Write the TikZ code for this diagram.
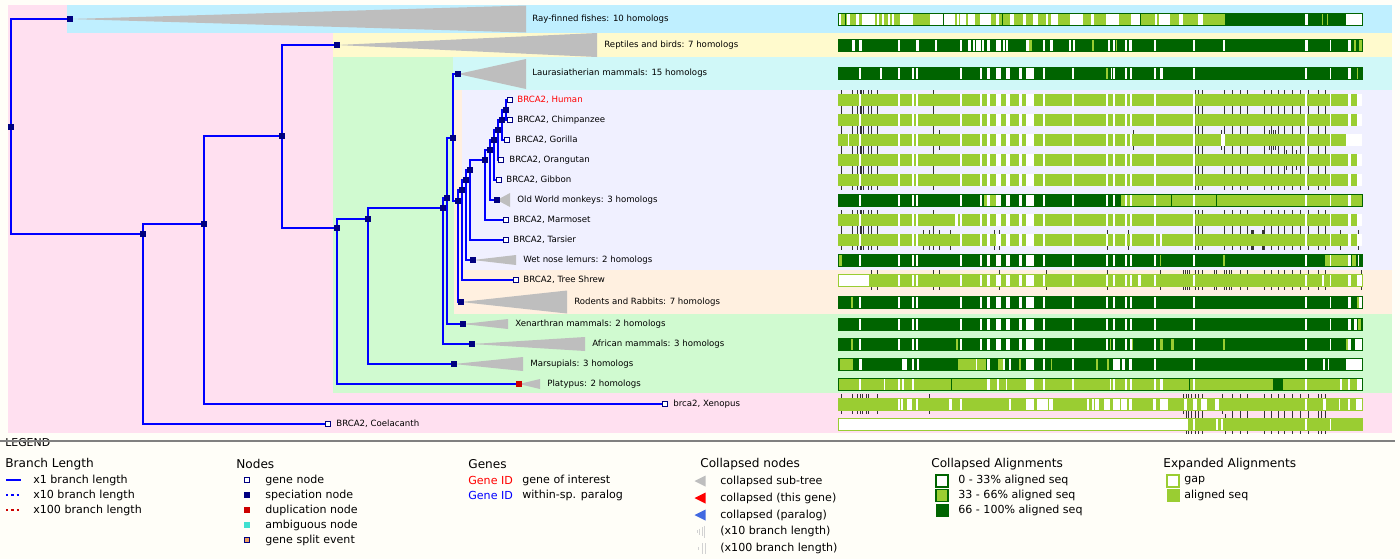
\documentclass[tikz,border=0pt]{standalone}
\usepackage{fontspec}
\setmainfont{DejaVu Sans}

\definecolor{pagebg}{HTML}{FFFEF8}
\definecolor{pinkbg}{HTML}{FFE0F0}
\definecolor{fishbg}{HTML}{BFEFFF}
\definecolor{ylwbg}{HTML}{FFFACD}
\definecolor{grnbg}{HTML}{D0FAD0}
\definecolor{cyanbg}{HTML}{D0F8F8}
\definecolor{peachbg}{HTML}{FFF0E0}
\definecolor{lavbg}{HTML}{F0F0FF}
\definecolor{navy}{HTML}{000080}
\definecolor{brblue}{HTML}{0000FF}
\definecolor{dupred}{HTML}{CC0000}
\definecolor{ambig}{HTML}{40E0D0}
\definecolor{splitorange}{HTML}{F0A060}
\definecolor{collgray}{HTML}{BEBEBE}
\definecolor{paralog}{HTML}{4169E1}
\definecolor{alndark}{HTML}{006400}
\definecolor{alnlight}{HTML}{9ACD32}
\definecolor{tickgray}{HTML}{333333}

\newcommand\treefont{\fontsize{4.9}{5.6}\selectfont}
\newcommand\legfont{\fontsize{6.3}{7.5}\selectfont}
\newcommand\legtitle{\fontsize{6.9}{8}\selectfont}

\pgfdeclarelayer{back}
\pgfdeclarelayer{mid}
\pgfsetlayers{back,mid,main}

%% columns that are gaps in almost every sequence
\newcommand\gapcols{859.3/2.1, 897.6/2.1, 912.2/2.1, 915.7/2.1, 960/2.1, 979.6/2.1, 987.4/2.1, 995.9/4.6, 1005.8/4.6, 1019.3/2.5, 1026.4/2.1, 1029.2/5, 1042.7/2.1, 1072.2/2.1, 1106.2/2.1, 1113/2.1, 1124.7/2.1, 1130/2.1, 1153.8/2.1, 1192.8/2.1, 1305.3/2.1, 1329.8/1, 1347.8/2.8}
%% exon boundaries of the primate genes
\newcommand\tickcols{841.5, 852.9, 857.5, 860.4, 861.8, 863.5, 868.2, 871.7, 877, 933.8, 1195.6, 1198.8, 1202.7, 1224.7, 1232.5, 1240.7, 1247.8, 1264.8, 1271.6, 1278, 1284, 1292.2, 1300.3, 1308.1, 1318.8, 1325.9}

\newcommand\alnbar[2]{\fill[#2] (838,#1-6) rectangle (1362,#1+6);}
\newcommand\alnsegs[3]{\foreach \sx/\sw in {#3} {\fill[#2] (\sx,#1-6) rectangle ++(\sw,12);}}
\newcommand\alngaps[1]{\foreach \sx/\sw in \gapcols {\fill[white] (\sx,#1-6) rectangle ++(\sw,12);}}
\newcommand\alnframe[2]{\draw[#2, line width=0.5pt] (838,#1-6) rectangle (1362,#1+6);}
\newcommand\alnticks[2]{\foreach \tx in {#2} {\draw[alntick] (\tx,#1-10) -- (\tx,#1-6) (\tx,#1+6) -- (\tx,#1+10);}}
\newcommand\alnticksstd[1]{\foreach \tx in \tickcols {\draw[alntick] (\tx,#1-10) -- (\tx,#1-6) (\tx,#1+6) -- (\tx,#1+10);}}

\tikzset{
  branch/.style={draw=brblue, line width=0.6pt},
  spec/.style={rectangle, fill=navy, inner sep=0pt, minimum size=3.4pt},
  gene/.style={rectangle, draw=navy, fill=white, line width=0.5pt, inner sep=0pt, minimum size=2.8pt},
  dup/.style={spec, fill=dupred},
  lbl/.style={anchor=west, inner sep=0pt, font=\treefont},
  coll/.style={fill=collgray},
  alntick/.style={draw=tickgray, line width=0.5pt},
  legtxt/.style={anchor=west, inner sep=0pt, font=\legfont},
  leghead/.style={anchor=west, inner sep=0pt, font=\legtitle},
}

\begin{document}
\begin{tikzpicture}[x=0.02cm, y=-0.02cm]
\useasboundingbox (0,0) rectangle (1400,559);

%% taxonomic bands
\begin{pgfonlayer}{back}
    \fill[pagebg] (0,0) rectangle (1400,559);
    \fill[pinkbg] (8,5) rectangle (1392,433);
    \fill[fishbg] (67,5) rectangle (1392,33);
    \fill[ylwbg] (333,33) rectangle (1392,57);
    \fill[grnbg] (333,57) rectangle (1392,393);
    \fill[cyanbg] (453,57) rectangle (1392,90);
    \fill[peachbg] (454,90) rectangle (1392,314);
    \fill[lavbg] (462,90) rectangle (1392,270);
\end{pgfonlayer}

%% tree
\begin{scope}
    \node[spec] (root) at (11,127) {};
    \node[spec] (fish) at (70,19) {};
    \node[spec] (nA) at (143,234) {};
    \node[spec] (nB) at (204,224) {};
    \node[spec] (nC) at (282,136) {};
    \node[gene] (coel) at (328,424) {};
    \node[gene] (xen) at (665,404) {};
    \node[spec] (rept) at (337,45) {};
    \node[spec] (nM) at (337,228) {};
    \node[dup] (plat) at (519,384) {};
    \node[spec] (nT) at (368,219) {};
    \node[spec] (mars) at (454,364) {};
    \node[spec] (nE) at (443,208) {};
    \node[spec] (afr) at (472,344) {};
    \node[spec] (nX) at (447,198) {};
    \node[spec] (xena) at (463,324) {};
    \node[spec] (nBo) at (453,138) {};
    \node[spec] (laur) at (458,74) {};
    \node[spec] (nG) at (458,201) {};
    \node[spec] (rod) at (461,302) {};
    \node[spec] (nH) at (462,190) {};
    \node[gene] (shrew) at (516,280) {};
    \node[spec] (nI) at (466,180) {};
    \node[spec] (lemur) at (473,260) {};
    \node[spec] (nJ) at (470,170) {};
    \node[gene] (tars) at (506,240) {};
    \node[spec] (nK) at (485,160) {};
    \node[gene] (marm) at (506,220) {};
    \node[spec] (nL) at (490,150) {};
    \node[spec] (owm) at (497,200) {};
    \node[spec] (nL2) at (494,140) {};
    \node[gene] (gibb) at (499,180) {};
    \node[spec] (nN) at (498,130) {};
    \node[gene] (oran) at (501,160) {};
    \node[spec] (nO) at (502,120) {};
    \node[gene] (gor) at (507,140) {};
    \node[spec] (nP) at (506,110) {};
    \node[gene] (human) at (510,100) {};
    \node[gene] (chimp) at (510,120) {};

    \begin{pgfonlayer}{mid}
    \foreach \p/\c in {root/fish, root/nA, nA/nB, nA/coel, nB/nC, nB/xen, nC/rept, nC/nM, nM/nT, nM/plat,
        nT/nE, nT/mars, nE/nX, nE/afr, nX/nBo, nX/xena, nBo/laur, nBo/nG, nG/nH, nG/rod,
        nH/nI, nH/shrew, nI/nJ, nI/lemur, nJ/nK, nJ/tars, nK/nL, nK/marm, nL/nL2, nL/owm,
        nL2/nN, nL2/gibb, nN/nO, nN/oran, nO/nP, nO/gor, nP/human, nP/chimp}
    {
        \draw[branch] (\p.center) |- (\c.center);
    }
    %% collapsed sub-trees
    \foreach \n/\len/\h in {fish/456/13.5, rept/260/12, laur/68/15, owm/13/7, lemur/43/5,
        rod/106/11.5, xena/45/5, afr/113/7, mars/69/7, plat/21/5}
    {
        \fill[coll] (\n.center) -- ++(\len,-\h) -- ++(0,2*\h) -- cycle;
    }
    \end{pgfonlayer}

    \node[lbl] (tfish) at (532,19) {Ray-finned fishes: 10 homologs};
    \node[lbl] (trept) at (604,45) {Reptiles and birds: 7 homologs};
    \node[lbl] (tlaur) at (532,73) {Laurasiatherian mammals: 15 homologs};
    \node[lbl, text=red] (thuman) at (517,100) {BRCA2, Human};
    \node[lbl] (tchimp) at (517,120) {BRCA2, Chimpanzee};
    \node[lbl] (tgor) at (515,140) {BRCA2, Gorilla};
    \node[lbl] (toran) at (509,160) {BRCA2, Orangutan};
    \node[lbl] (tgibb) at (506,180) {BRCA2, Gibbon};
    \node[lbl] (towm) at (517,200) {Old World monkeys: 3 homologs};
    \node[lbl] (tmarm) at (513,220) {BRCA2, Marmoset};
    \node[lbl] (ttars) at (513,240) {BRCA2, Tarsier};
    \node[lbl] (tlemur) at (523,260) {Wet nose lemurs: 2 homologs};
    \node[lbl] (tshrew) at (523,280) {BRCA2, Tree Shrew};
    \node[lbl] (trod) at (574,302) {Rodents and Rabbits: 7 homologs};
    \node[lbl] (txena) at (515,324) {Xenarthran mammals: 2 homologs};
    \node[lbl] (tafr) at (592,344) {African mammals: 3 homologs};
    \node[lbl] (tmars) at (530,364) {Marsupials: 3 homologs};
    \node[lbl] (tplat) at (547,384) {Platypus: 2 homologs};
    \node[lbl] (txen) at (673,404) {brca2, Xenopus};
    \node[lbl] (tcoel) at (336,424) {BRCA2, Coelacanth};
\end{scope}

%% alignments
\begin{scope}
    %% Ray-finned fishes
    \alnbar{19}{alnlight}
    \alnsegs{19}{alndark}{1225.4/136.6}
    \alnsegs{19}{white}{839.1/1.4, 846.9/3.5, 855.7/2.8, 861.8/13.5, 877/1.8, 882.3/1.8, 887.7/1.8, 892.3/1.4, 900.1/13.1, 930.2/13.1, 944.4/10.6, 956.9/1.8, 960.4/5.3, 968.2/6.4, 979.6/11, 995.9/3.5, 1010.1/3.5, 1022.5/3.5, 1033.1/5.3, 1045.6/2.8, 1050.9/7.1, 1070.4/12.4, 1091/2.5, 1105.9/13.5, 1130.7/8.9, 1154.8/2.5, 1159.1/10.6, 1178.6/4.6, 1198.1/5.3, 1304.6/3.5, 1346.4/15.6}
    \alnsegs{19}{alnlight}{1321.6/1.8, 1326.5/1.4}
    \alnsegs{19}{alndark}{844.7/0.8, 943.4/0.8, 1001.9/0.8, 1139.9/0.8}
    \alnframe{19}{alndark}
    %% Reptiles and birds
    \alnbar{45}{alndark}
    \alnsegs{45}{white}{852.2/2.5, 859.3/2.8, 897.6/2.5, 916/2.5, 934.5/2.1, 960/2.1, 967.9/3.2, 973.4/10.6, 987.4/2.1, 995.9/4.6, 1003/1.8, 1005.8/2.5, 1026.4/2.1, 1042.7/2.1, 1049.8/2.8, 1069.3/1.8, 1073.3/1.4, 1108.4/1.8, 1113/2.1, 1124.7/2.5, 1128.9/3.5, 1153.8/2.1, 1192.8/2.1, 1223/1.8, 1305.3/2.8, 1329.8/0.7, 1347.8/2.8}
    \alnsegs{45}{alnlight}{1028.9/3.2, 1091.7/2.5, 1115.8/1.4, 1353.5/2.8, 1358.5/3.5}
    \alnsegs{45}{alndark}{975.2/0.6, 980.5/0.6}
    \alnframe{45}{alndark}
    %% Laurasiatherian mammals
    \alnbar{73}{alndark}
    \alngaps{73}
    \alnsegs{73}{white}{879.9/2.1, 1110.5/1.8, 1159.8/2.8}
    \alnsegs{73}{alnlight}{1106.2/2.1, 1356.6/1.8}
    \alnframe{73}{alndark}
    %% great apes
    \foreach \ry in {100,120,140,160,180}
    {
        \alnbar{\ry}{alnlight}
        \alngaps{\ry}
        \alnsegs{\ry}{white}{1356.6/5.4}
        \alnticksstd{\ry}
    }
    \alnsegs{140}{white}{847.6/1, 1221.2/4.2, 1346.4/15.6}
    \alnticks{140}{939.1, 1133.6, 1221.6, 1269.5, 1271.5, 1273.5, 1275.5}
    \alnticks{160}{1286, 1296}
    %% Old World monkeys
    \alnbar{200}{alndark}
    \alnsegs{200}{alnlight}{983.5/12.4, 1121/241}
    \alngaps{200}
    \alnsegs{200}{alndark}{1170.5/0.8, 1216.2/0.8}
    \alnframe{200}{alndark}
    %% Marmoset, Tarsier
    \foreach \ry in {220,240}
    {
        \alnbar{\ry}{alnlight}
        \alngaps{\ry}
        \alnsegs{\ry}{white}{1356.6/5.4}
        \alnticksstd{\ry}
    }
    \alnsegs{220}{white}{955.1/2.5}
    \alnsegs{240}{white}{1159.8/2.1}
    \alnticks{240}{923.2, 929.5, 939.8, 950.5, 994.1, 999.8, 1107.6, 1128.9, 1251.3, 1252.4, 1253.4, 1262.7, 1263.8, 1340, 1358.5}
    %% Wet nose lemurs
    \alnbar{260}{alndark}
    \alnsegs{260}{alnlight}{838/3.9, 1159.8/1.4, 1222.9/1.8, 1324.8/23, 1352/4}
    \alngaps{260}
    \alnsegs{260}{white}{1357.8/1.5}
    \alnframe{260}{alndark}
    %% Tree Shrew
    \alnbar{280}{alnlight}
    \alnsegs{280}{white}{838/31.2, 1137.8/2.8, 1322.3/2.1, 1356.6/5.4}
    \alngaps{280}
    \alnticks{280}{871, 877, 933.8, 939.8, 999.4, 1046.6, 1107.6, 1160.1, 1183.9, 1185.3, 1187.5, 1189.6, 1195.6, 1198.8, 1202.7, 1214, 1216.5, 1224.7, 1226.5, 1229, 1231.8, 1240.7, 1247.8, 1264.8, 1271.6, 1278, 1284, 1292.2, 1300.3, 1308.1, 1318.8, 1325.9, 1361.3}
    \alnframe{280}{alnlight}
    %% Rodents and Rabbits
    \alnbar{302}{alndark}
    \alnsegs{302}{alnlight}{851.1/2.1, 1356.6/2}
    \alngaps{302}
    \alnsegs{302}{white}{1358.6/3.4}
    \alnframe{302}{alndark}
    %% Xenarthran mammals
    \alnbar{324}{alndark}
    \alngaps{324}
    \alnsegs{324}{white}{1353.5/3}
    \alnsegs{324}{alnlight}{1358/3}
    \alnframe{324}{alndark}
    %% African mammals
    \alnbar{344}{alndark}
    \alnsegs{344}{alnlight}{851.1/1.4, 955.8/2.1, 1019.3/1.4, 1110/1.4, 1131.4/1.8, 1159.8/2.8, 1170.5/3.5, 1223.2/2.1, 1346.4/2.8}
    \alngaps{344}
    \alnsegs{344}{white}{1354.9/7.1}
    \alnframe{344}{alndark}
    %% Marsupials
    \alnbar{364}{alndark}
    \alnsegs{364}{alnlight}{839.8/13.5, 958.3/28, 997.7/6.4, 1019.3/1.4, 1051/1.4, 1096.2/1.4, 1107.3/1.4}
    \alnsegs{364}{white}{859.3/2.8, 901.9/2.5, 904.4/2.5, 912.2/2.1, 917.1/1.8, 976.4/0.7, 987.4/2.1, 1003/1.8, 1008.5/2.1, 1026.4/7.5, 1042.7/2.1, 1072.2/2.1, 1113/7.1, 1122.4/2.5, 1128.9/3.5, 1153.8/2.1, 1192.8/2.1, 1305.3/2.1, 1323.3/1.8, 1327.6/1.8, 1346.4/15.6}
    \alnframe{364}{alndark}
    %% Platypus
    \alnbar{384}{alnlight}
    \alnsegs{384}{white}{859.3/2.1, 884.1/1, 897.6/2.1, 901.9/2.1, 912.2/1.4, 987.4/2.1, 997.3/1.4, 1005.8/1.4, 1026.4/7.5, 1042.7/2.1, 1072.2/2.1, 1109.8/1, 1113/2.1, 1124.7/2.5, 1130/2.1, 1153.8/2.1, 1159.8/2.8, 1192.8/2.1, 1305.3/2.1, 1340.2/1.8, 1347.8/2.1, 1356.6/5.4}
    \alnsegs{384}{alndark}{950.5/0.8, 1188.5/0.8, 1272.6/9.9}
    \alnframe{384}{alndark}
    %% Xenopus
    \alnbar{404}{alnlight}
    \alnsegs{404}{white}{897.6/2.5, 901.2/1.8, 907.3/4.3, 915.7/2.1, 949.3/2.8, 960/1.8, 1008.5/2.1, 1026.4/7.5, 1036.7/11.4, 1049.1/3.5, 1087.4/1.8, 1091.7/2.5, 1094.6/4.6, 1104.1/6, 1113/7.1, 1121/6.4, 1128.9/3.5, 1153.1/2.5, 1159.8/2.8, 1163.3/4.3, 1183.9/2.8, 1192.8/3.9, 1200.5/6, 1215.3/3.9, 1305.3/2.1, 1323.3/2.5, 1338.6/1.8, 1347.8/2.1, 1355.5/6.5}
    \alnticks{404}{841.5, 852.9, 857.5, 860.4, 862.5, 866, 868.2, 877, 929.5, 1183.9, 1186, 1188.5, 1191, 1195.6, 1198.8, 1202.7, 1222.8, 1232.5, 1240.7, 1247.8, 1264.8, 1271.6, 1278, 1284, 1292.2, 1300.3, 1308.1, 1318.8, 1321, 1325.9}
    \alnframe{404}{alnlight}
    %% Coelacanth
    \alnbar{424}{alnlight}
    \alnsegs{424}{white}{838/349.5, 1192.8/2.1, 1215.5/2.8, 1221.2/1.8, 1305.3/2.1, 1329.8/0.7}
    \alnticks{424}{1186, 1188.5, 1191, 1195.6, 1198.8, 1202.7, 1225, 1232.5, 1240.7, 1247.8, 1264.8, 1271.6, 1278, 1284, 1292.2, 1300.3, 1308.1, 1318.8, 1321, 1325.9}
    \alnframe{424}{alnlight}
\end{scope}

%% legend
\begin{scope}
    \node[legtxt, font=\fontsize{6.2}{7}\selectfont] (legend) at (5,443) {LEGEND};
    \draw[gray, line width=0.6pt] (0,441) -- (1395,441);

    %% branch length
    \node[leghead] (hbranch) at (5,464) {Branch Length};
    \draw[brblue, line width=0.6pt] (6,480) -- (21,480);
    \draw[brblue, line width=0.6pt, dash pattern=on 1.4pt off 1.6pt] (6,495) -- (21,495);
    \draw[dupred, line width=0.6pt, dash pattern=on 1.4pt off 1.6pt] (6,510) -- (21,510);
    \node[legtxt] (lx1) at (33,480) {x1 branch length};
    \node[legtxt] (lx10) at (33,495) {x10 branch length};
    \node[legtxt] (lx100) at (33,510) {x100 branch length};

    %% nodes
    \node[leghead] (hnodes) at (236,464) {Nodes};
    \node[gene] (kgene) at (247,480) {};
    \node[spec] (kspec) at (247,495) {};
    \node[dup] (kdup) at (247,510) {};
    \node[spec, fill=ambig] (kamb) at (247,525) {};
    \node[gene, fill=splitorange] (ksplit) at (247,540) {};
    \foreach \y/\txt in {480/gene node, 495/speciation node, 510/duplication node, 525/ambiguous node, 540/gene split event}
    {
        \node[legtxt] at (265,\y) {\txt};
    }

    %% genes
    \node[leghead] (hgenes) at (468,464) {Genes};
    \node[legtxt, text=red] (kgoi) at (468,480) {Gene ID};
    \node[legtxt] (lgoi) at (522,480) {gene of interest};
    \node[legtxt, text=brblue] (kpar) at (468,495) {Gene ID};
    \node[legtxt] (lpar) at (522,495) {within-sp. paralog};

    %% collapsed nodes
    \node[leghead] (hcoll) at (700,464) {Collapsed nodes};
    \fill[collgray] (694.5,481) -- (705.5,475.5) -- (705.5,486.5) -- cycle;
    \fill[red] (694.5,498) -- (705.5,492.5) -- (705.5,503.5) -- cycle;
    \fill[paralog] (694.5,515) -- (705.5,509.5) -- (705.5,520.5) -- cycle;
    \foreach \i in {0,1,2,3}
    {
        \draw[gray!35!white, line width=0.5pt] (697+2.6*\i,531.5-1.5-1.5*\i) -- (697+2.6*\i,531.5+1.5+1.5*\i);
    }
    \draw[gray!35!white, line width=0.5pt] (698,547) -- (698,550) (702,543) -- (702,554) (705,543) -- (705,554);
    \node[legtxt] (lsub) at (720,481) {collapsed sub-tree};
    \node[legtxt] (lthis) at (720,498) {collapsed (this gene)};
    \node[legtxt] (lpara) at (720,515) {collapsed (paralog)};
    \node[legtxt] (lc10) at (720,531.5) {(x10 branch length)};
    \node[legtxt] (lc100) at (720,548) {(x100 branch length)};

    %% collapsed alignments
    \node[leghead] (hcaln) at (931,464) {Collapsed Alignments};
    \draw[alndark, fill=white, line width=0.6pt] (936,475) rectangle (948,487);
    \draw[alndark, fill=alnlight, line width=0.6pt] (936,489.5) rectangle (948,501.5);
    \fill[alndark] (935.5,504) rectangle (948.5,516.5);
    \node[legtxt] (lc0) at (958,480.5) {0 - 33\% aligned seq};
    \node[legtxt] (lc33) at (958,495) {33 - 66\% aligned seq};
    \node[legtxt] (lc66) at (958,510) {66 - 100\% aligned seq};

    %% expanded alignments
    \node[leghead] (heal) at (1163,464) {Expanded Alignments};
    \draw[alnlight, fill=white, line width=0.6pt] (1167,475) rectangle (1179,487);
    \fill[alnlight] (1166.5,489) rectangle (1179.5,501.5);
    \node[legtxt] (lgap) at (1184,480.5) {gap};
    \node[legtxt] (lseq) at (1184,495) {aligned seq};
\end{scope}

\end{tikzpicture}
\end{document}
